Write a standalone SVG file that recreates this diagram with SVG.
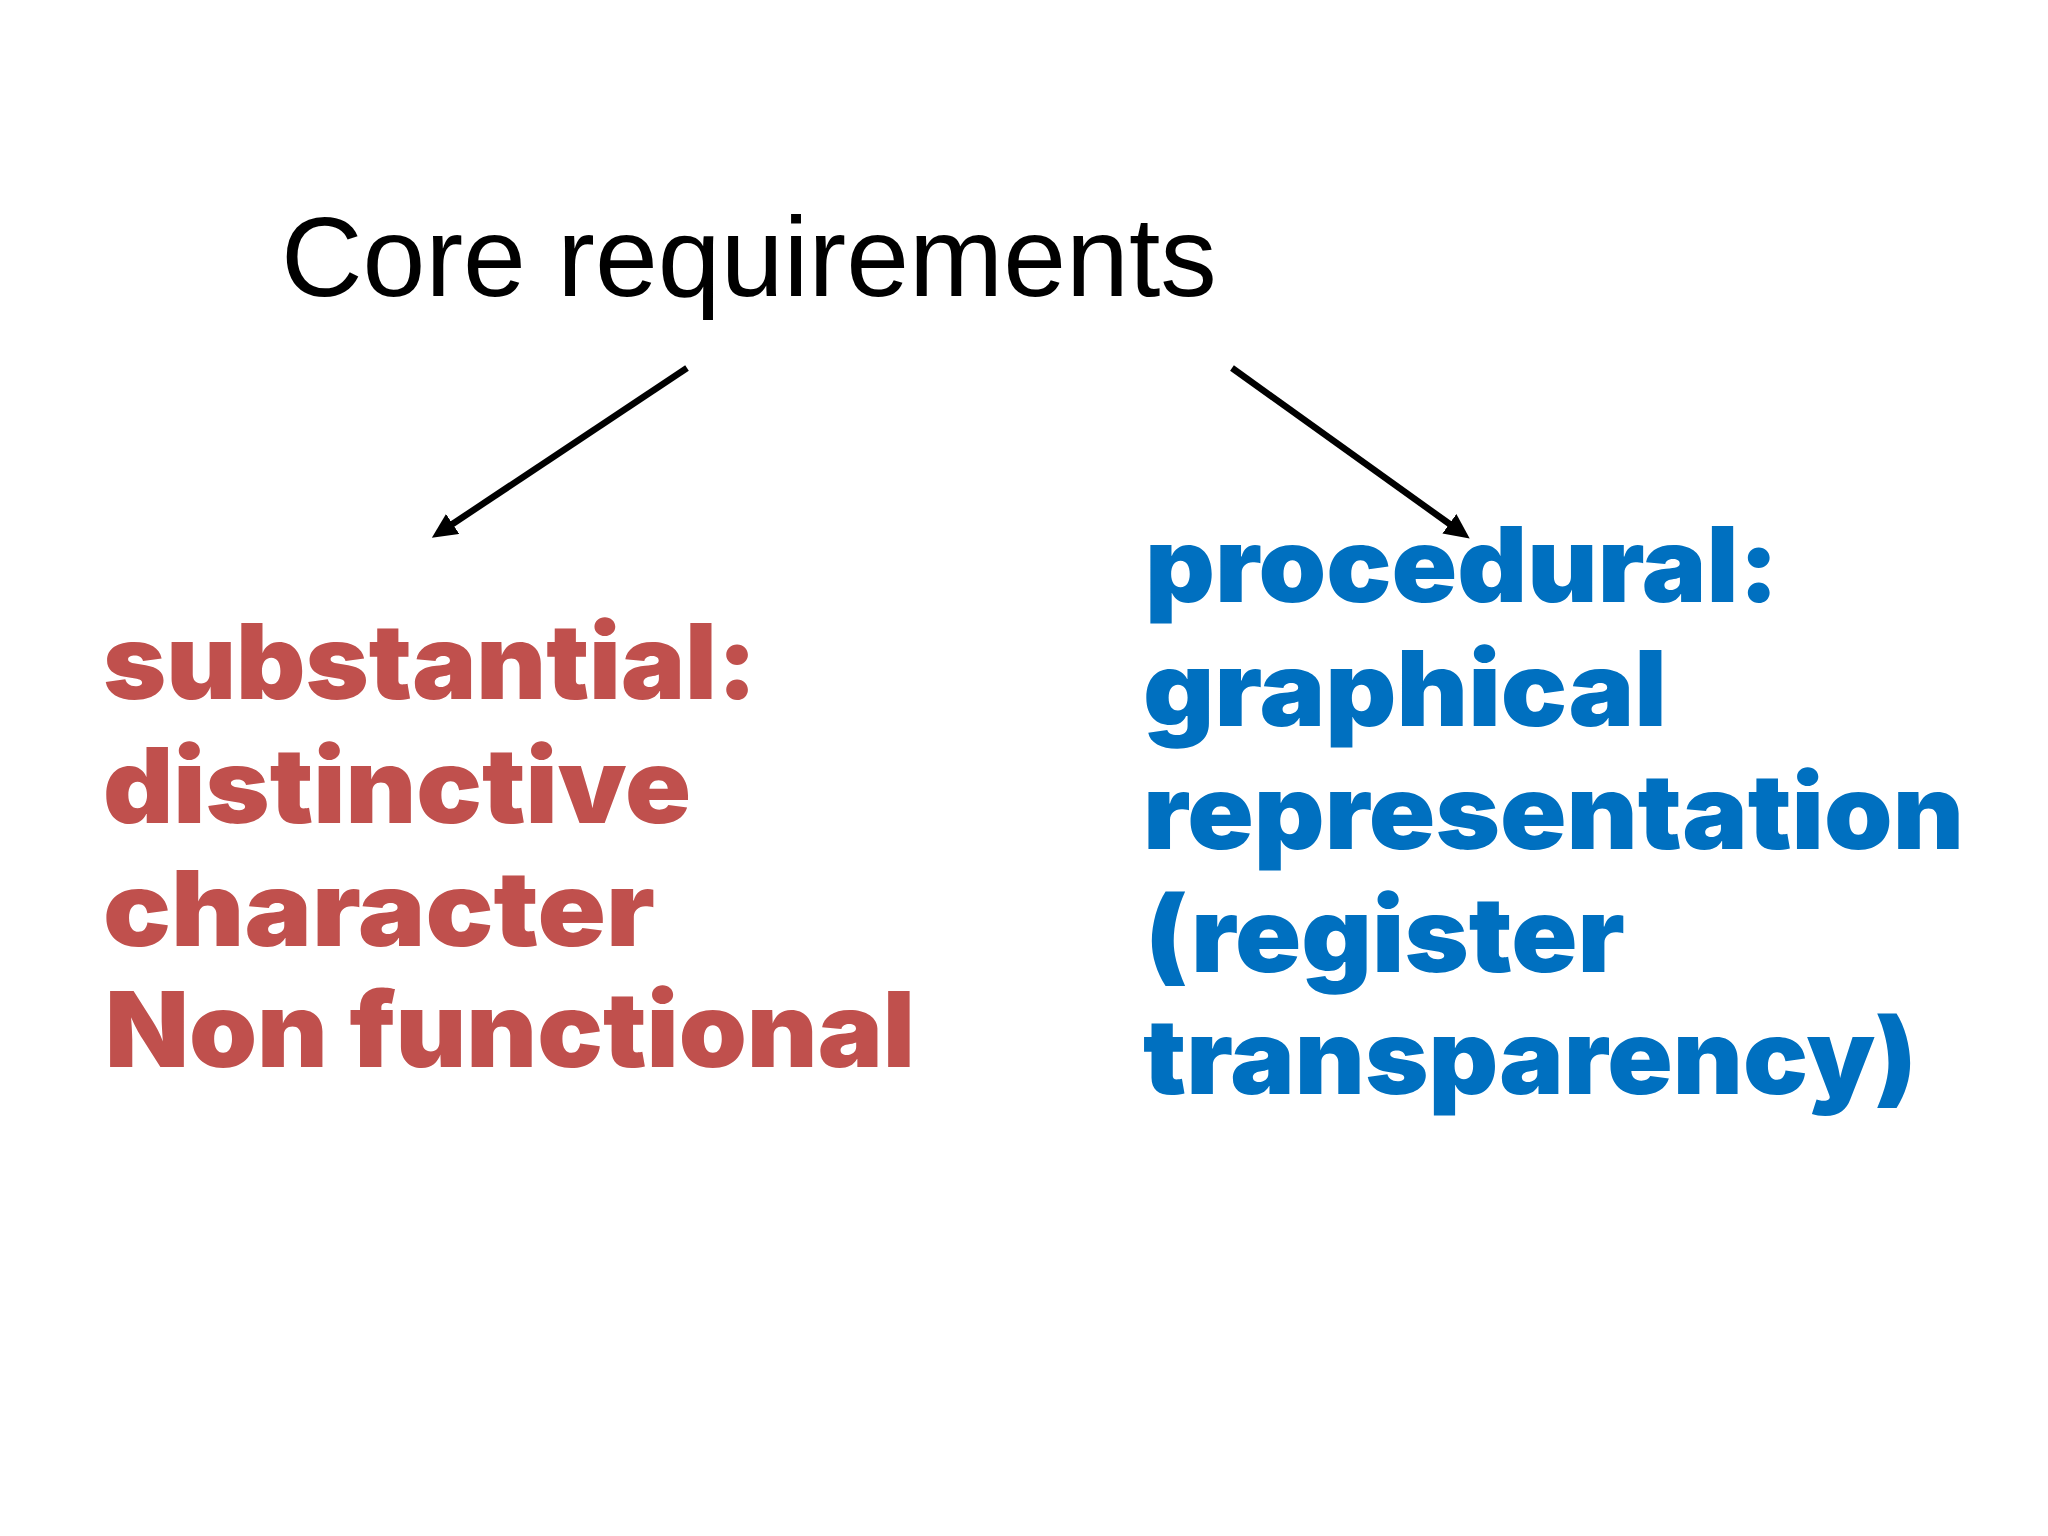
<svg xmlns="http://www.w3.org/2000/svg" width="2048" height="1536" viewBox="0 0 2048 1536">
<style>
.title{font-family:"Liberation Sans",Arial,sans-serif;font-size:113px;fill:#000}
.heavy{font-family:Inter,"Roboto","Lato","DejaVu Sans",sans-serif;font-weight:900;font-size:104px}
.red{fill:#C0504D}
.blue{fill:#0070C0}
.conn{stroke:#000;stroke-width:6.5;fill:none;marker-end:url(#arr)}
</style>
<defs>
<marker id="arr" markerUnits="userSpaceOnUse" markerWidth="30" markerHeight="30" refX="2" refY="12" orient="auto">
<path d="M0,0 L25,12 L0,24 Z" fill="#000"/>
</marker>
</defs>
<rect width="2048" height="1536" fill="#fff"/>
<g id="core">
<text class="title" x="281" y="296">Core requirements</text>
</g>
<g id="connectors">
<line class="conn" x1="687" y1="368" x2="451" y2="525"/>
<line class="conn" x1="1232" y1="368" x2="1451" y2="525"/>
</g>
<g id="substantial" class="heavy red">
<text x="103" y="699" textLength="654" lengthAdjust="spacingAndGlyphs">substantial:</text>
<text x="103" y="823" textLength="588" lengthAdjust="spacingAndGlyphs">distinctive</text>
<text x="103" y="946" textLength="552" lengthAdjust="spacingAndGlyphs">character</text>
<text x="105" y="1067" textLength="810" lengthAdjust="spacingAndGlyphs">Non functional</text>
</g>
<g id="procedural" class="heavy blue">
<text x="1145" y="602" textLength="634" lengthAdjust="spacingAndGlyphs">procedural:</text>
<text x="1143" y="726" textLength="524" lengthAdjust="spacingAndGlyphs">graphical</text>
<text x="1143" y="849" textLength="821" lengthAdjust="spacingAndGlyphs">representation</text>
<text x="1145" y="972" textLength="480" lengthAdjust="spacingAndGlyphs">(register</text>
<text x="1143" y="1094" textLength="774" lengthAdjust="spacingAndGlyphs">transparency)</text>
</g>
</svg>
